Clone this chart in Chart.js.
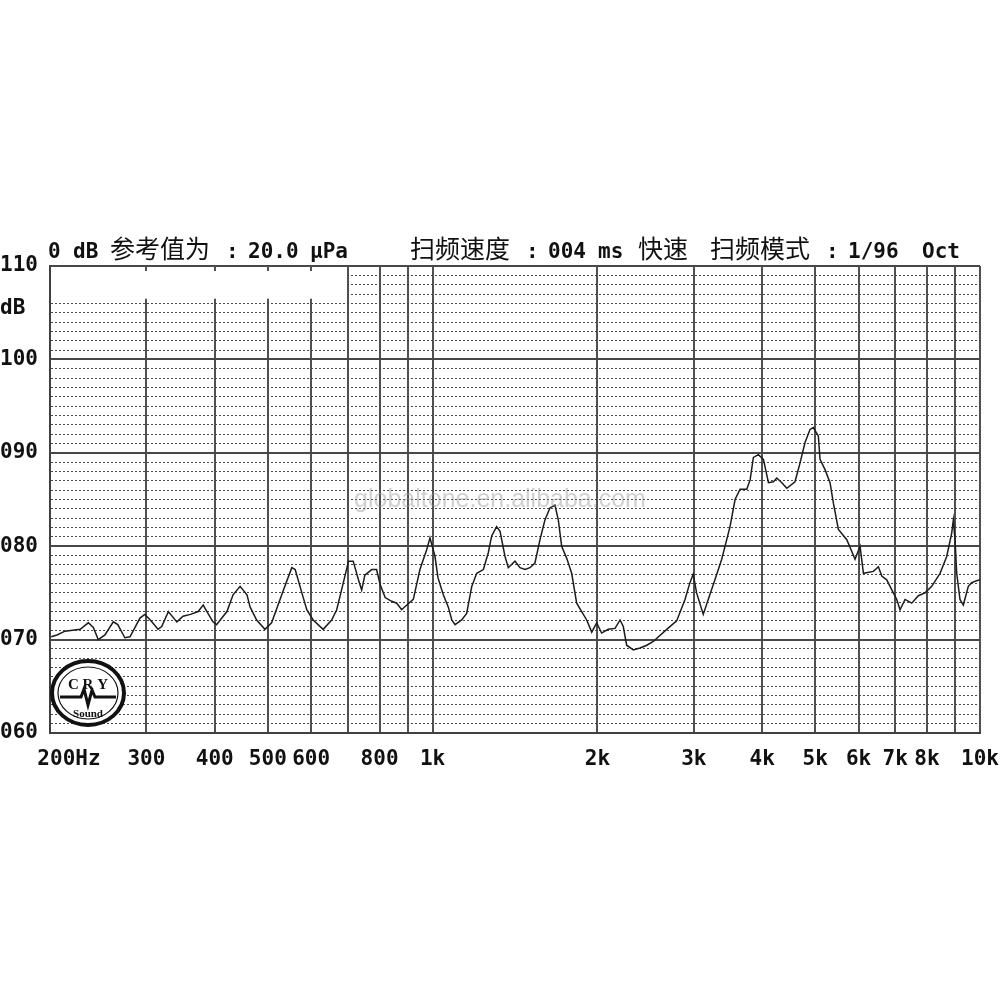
<!DOCTYPE html>
<html>
<head>
<meta charset="utf-8">
<script src="https://cdn.jsdelivr.net/npm/chart.js@4.4.1/dist/chart.umd.min.js"></script>
<style>
  html, body { margin: 0; padding: 0; background: #fff; }
  canvas { display: block; }
</style>
</head>
<body>
<canvas id="responseChart" width="1000" height="1000"></canvas>
<script>
// frequency response, 1/96 oct sweep
const freqHz = [
  201, 206, 213, 227, 235, 240, 245, 252, 261, 266, 274, 280, 292, 298, 305, 315, 320, 329, 341, 350,
  361, 373, 381, 387, 397, 403, 421, 432, 445, 458, 464, 477, 494, 508, 534, 553, 561, 577, 589, 605,
  631, 654, 668, 687, 702, 716, 732, 742, 752, 774, 790, 802, 819, 842, 860, 878, 897, 922, 948, 975,
  989, 1010, 1023, 1046, 1068, 1084, 1099, 1130, 1154, 1179, 1204, 1238, 1264, 1282, 1309, 1328, 1356, 1375, 1414, 1444,
  1475, 1506, 1538, 1571, 1604, 1638, 1673, 1697, 1721, 1758, 1795, 1833, 1872, 1912, 1953, 1994, 2036, 2093, 2154, 2200,
  2230, 2262, 2326, 2393, 2462, 2530, 2677, 2792, 2891, 2952, 2993, 3036, 3122, 3188, 3279, 3374, 3446, 3494, 3569, 3645,
  3749, 3802, 3855, 3937, 4021, 4107, 4194, 4254, 4345, 4437, 4592, 4690, 4790, 4892, 4960, 5066, 5102, 5211, 5322, 5397,
  5512, 5710, 5912, 6038, 6124, 6385, 6522, 6615, 6755, 6945, 7045, 7144, 7296, 7505, 7715, 7936, 8162, 8453, 8693, 8878,
  8939, 9002, 9067, 9192, 9322, 9520, 9657, 9861, 10000
];
const levelDb = [
  70.3, 70.5, 70.9, 71.1, 71.8, 71.3, 70.0, 70.5, 71.9, 71.6, 70.2, 70.3, 72.3, 72.7, 72.1, 71.1, 71.4, 73.0, 71.9, 72.5,
  72.7, 73.0, 73.7, 73.0, 71.9, 71.6, 73.0, 74.8, 75.7, 74.8, 73.5, 72.1, 71.1, 71.8, 75.3, 77.7, 77.5, 75.0, 73.2, 72.1,
  71.1, 72.1, 73.2, 76.1, 78.4, 78.4, 76.4, 75.3, 76.9, 77.5, 77.5, 75.9, 74.5, 74.1, 73.9, 73.2, 73.7, 74.3, 77.5, 79.6,
  80.9, 78.9, 76.6, 74.8, 73.5, 72.1, 71.6, 72.1, 72.8, 75.7, 77.1, 77.5, 79.3, 81.1, 82.1, 81.6, 78.9, 77.7, 78.4, 77.7,
  77.5, 77.7, 78.2, 80.7, 82.8, 84.1, 84.4, 82.8, 80.0, 78.7, 77.1, 73.9, 73.0, 72.1, 70.8, 71.8, 70.7, 71.1, 71.2, 72.1,
  71.4, 69.4, 68.9, 69.1, 69.4, 69.8, 71.1, 72.0, 74.3, 76.1, 77.0, 75.0, 72.7, 74.3, 76.4, 78.6, 80.7, 82.1, 85.0, 86.1,
  86.1, 87.1, 89.5, 89.8, 89.3, 86.8, 86.9, 87.3, 86.8, 86.2, 86.9, 88.9, 91.1, 92.5, 92.7, 91.8, 89.3, 88.2, 86.8, 84.6,
  81.8, 80.7, 78.6, 80.0, 77.1, 77.3, 77.8, 76.8, 76.4, 75.0, 74.3, 73.2, 74.3, 73.9, 74.7, 75.0, 75.7, 77.1, 78.9, 81.4,
  82.8, 80.7, 77.1, 74.3, 73.7, 75.7, 76.1, 76.3, 76.4
];

// grid and tick labels
const xGridFreqs = [200, 300, 400, 500, 600, 700, 800, 900, 1000, 2000, 3000, 4000, 5000, 6000, 7000, 8000, 9000, 10000];
const xLabelFreqs = [200, 300, 400, 500, 600, 800, 1000, 2000, 3000, 4000, 5000, 6000, 7000, 8000, 10000];
const xLabelTexts = ['   200Hz', '300', '400', '500', '600', '800', '1k', '2k', '3k', '4k', '5k', '6k', '7k', '8k', '10k'];
const yLabelDb = [60, 70, 80, 90, 100, 110];
const yLabelTexts = ['060', '070', '080', '090', '100', '110'];

// header line above the grid
const headerParts = [
  ['0', 48, 'latin'], ['dB', 73, 'latin'], ['参考值为', 110, 'cjk'], [':', 226, 'latin'],
  ['20.0', 248, 'latin'], ['μPa', 310, 'latin'],
  ['扫频速度', 410, 'cjk'], [':', 526, 'latin'], ['004', 548, 'latin'], ['ms', 598, 'latin'], ['快速', 638, 'cjk'],
  ['扫频模式', 710, 'cjk'], [':', 826, 'latin'], ['1/96', 848, 'latin'], ['Oct', 922, 'latin']
];

const monoFont = '"DejaVu Sans Mono", "Liberation Mono", monospace';
const cjkFont = '"Noto Sans CJK SC", sans-serif';

const decor = {
  id: 'decor',
  beforeDatasetsDraw(chart) {
    const {ctx, chartArea, scales: {x, y}} = chart;
    // blank box top-left
    const x0 = chartArea.left + 1;
    const x1 = x.getPixelForValue(700) - 1;
    const y0 = chartArea.top + 2;
    const y1 = y.getPixelForValue(106.5);
    ctx.save();
    ctx.fillStyle = '#fff';
    ctx.fillRect(x0, y0, x1 - x0, y1 - y0);
    ctx.strokeStyle = '#505050';
    ctx.lineWidth = 2;
    [300, 400, 500, 600].forEach(function (f) {
      const px = Math.round(x.getPixelForValue(f));
      ctx.beginPath();
      ctx.moveTo(px, chartArea.top);
      ctx.lineTo(px, chartArea.top + 5);
      ctx.stroke();
    });
    ctx.restore();
  },
  afterDatasetsDraw(chart) {
    const {ctx} = chart;
    ctx.save();
    // watermark
    ctx.font = '25px "Liberation Sans", Arial, sans-serif';
    ctx.fillStyle = 'rgba(150,150,150,0.45)';
    ctx.textAlign = 'center';
    ctx.textBaseline = 'middle';
    ctx.fillText('globaltone.en.alibaba.com', 500, 500);

    // logo
    ctx.beginPath();
    ctx.ellipse(88, 693, 36, 32, 0, 0, 2 * Math.PI);
    ctx.fillStyle = '#fff';
    ctx.fill();
    ctx.lineWidth = 4;
    ctx.strokeStyle = '#111';
    ctx.stroke();
    ctx.beginPath();
    ctx.ellipse(88, 693, 30, 26, 0, 0, 2 * Math.PI);
    ctx.lineWidth = 1.2;
    ctx.stroke();
    ctx.fillStyle = '#111';
    ctx.textBaseline = 'alphabetic';
    ctx.font = 'bold 15px "Liberation Serif", serif';
    ctx.fillText('C R Y', 88, 689);
    ctx.font = 'bold 11px "Liberation Serif", serif';
    ctx.fillText('Sound', 88, 717);
    ctx.beginPath();
    ctx.moveTo(60, 697);
    ctx.lineTo(81, 697);
    ctx.lineTo(84, 689);
    ctx.lineTo(88, 705);
    ctx.lineTo(92, 690);
    ctx.lineTo(95, 697);
    ctx.lineTo(116, 697);
    ctx.lineWidth = 3;
    ctx.stroke();
    ctx.restore();
  },
  afterDraw(chart) {
    const {ctx} = chart;
    ctx.save();
    ctx.fillStyle = '#111';
    ctx.textAlign = 'left';
    ctx.textBaseline = 'alphabetic';
    headerParts.forEach(function (p) {
      ctx.font = p[2] === 'cjk' ? '25px ' + cjkFont : 'bold 21px ' + monoFont;
      ctx.fillText(p[0], p[1], 258);
    });
    ctx.font = 'bold 21px ' + monoFont;
    ctx.fillText('dB', 0, 314);
    ctx.restore();
  }
};

const ctxL = document.getElementById('responseChart').getContext('2d');
const responseChart = new Chart(ctxL, {
  type: 'line',
  data: {
    datasets: [{
      label: 'SPL',
      data: freqHz.map(function (f, i) { return {x: f, y: levelDb[i]}; }),
      borderColor: '#1c1c1c',
      borderWidth: 1.5,
      pointRadius: 0,
      tension: 0,
      fill: false
    }]
  },
  options: {
    responsive: false,
    animation: false,
    devicePixelRatio: 1,
    layout: { padding: { top: 266, right: 20, bottom: 227, left: 0 } },
    plugins: { legend: { display: false }, tooltip: { enabled: false } },
    scales: {
      x: {
        type: 'logarithmic',
        min: 200,
        max: 10000,
        afterBuildTicks: function (s) { s.ticks = xGridFreqs.map(function (v) { return {value: v}; }); },
        afterFit: function (s) {
          s.height = 40;
          s.paddingLeft = 0;
          s.paddingRight = 0;
        },
        grid: { color: '#505050', lineWidth: 2, drawTicks: false },
        border: { color: '#404040', width: 2 },
        ticks: {
          autoSkip: false,
          maxRotation: 0,
          minRotation: 0,
          padding: 14,
          color: '#111',
          font: { family: monoFont, size: 21, weight: 'bold' },
          callback: function (value) {
            const i = xLabelFreqs.indexOf(value);
            return i >= 0 ? xLabelTexts[i] : '';
          }
        }
      },
      y: {
        min: 60,
        max: 110,
        afterBuildTicks: function (s) {
          const t = [];
          for (let v = 60; v <= 110; v++) t.push({value: v});
          s.ticks = t;
        },
        afterFit: function (s) {
          s.width = 50;
          s.paddingTop = 0;
          s.paddingBottom = 0;
        },
        grid: {
          drawTicks: false,
          color: function (c) { return c.tick && c.tick.value % 10 !== 0 ? '#4a4a4a' : '#484848'; },
          lineWidth: function (c) { return c.tick && c.tick.value % 10 !== 0 ? 1 : 2; }
        },
        border: {
          color: '#404040',
          width: 2,
          dash: function (c) { return c.tick && c.tick.value % 10 !== 0 ? [2, 2] : []; }
        },
        ticks: {
          autoSkip: false,
          crossAlign: 'far',
          padding: 0,
          color: '#111',
          font: { family: monoFont, size: 21, weight: 'bold' },
          callback: function (value) {
            const i = yLabelDb.indexOf(value);
            return i >= 0 ? yLabelTexts[i] : '';
          }
        }
      }
    }
  },
  plugins: [decor]
});
</script>
</body>
</html>
